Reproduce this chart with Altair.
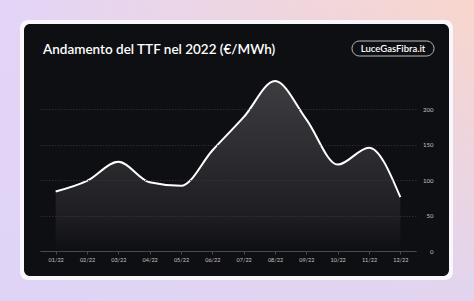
import altair as alt
import pandas as pd

months = ["01/22", "02/22", "03/22", "04/22", "05/22", "06/22",
          "07/22", "08/22", "09/22", "10/22", "11/22", "12/22"]
ttf = [84, 99, 126, 97, 92, 142, 189, 240, 186, 122, 146, 76]
y_ticks = [0, 50, 100, 150, 200]
title_text = "Andamento del TTF nel 2022 (€/MWh)"
badge_text = "LuceGasFibra.it"

df = pd.DataFrame({"mese": months, "ttf": ttf})
one = pd.DataFrame({"k": [0]})

PAD_L, PAD_T, PAD_R, PAD_B = 40, 74, 58, 50
W, H = 376, 177

bg = alt.Chart(one).mark_rect(
    color=alt.Gradient(gradient="linear", x1=0, x2=1, y1=0, y2=0,
                       stops=[alt.GradientStop(offset=0, color="#e3d5f8"),
                              alt.GradientStop(offset=1, color="#f8d6cc")])
).encode(x=alt.value(-PAD_L), x2=alt.value(W + PAD_R),
         y=alt.value(-PAD_T), y2=alt.value(H + PAD_B))

bg2 = alt.Chart(one).mark_rect(
    color=alt.Gradient(gradient="linear", x1=0, x2=0, y1=0, y2=1,
                       stops=[alt.GradientStop(offset=0, color="rgba(225,210,245,0)"),
                              alt.GradientStop(offset=1, color="rgba(222,212,246,0.85)")])
).encode(x=alt.value(-PAD_L), x2=alt.value(W + PAD_R),
         y=alt.value(-PAD_T), y2=alt.value(H + PAD_B))

card_border = alt.Chart(one).mark_rect(color="#f9f6fc", cornerRadius=8).encode(
    x=alt.value(20 - PAD_L), x2=alt.value(453 - PAD_L),
    y=alt.value(20 - PAD_T), y2=alt.value(280 - PAD_T))

card = alt.Chart(one).mark_rect(color="#0e0f13", cornerRadius=6).encode(
    x=alt.value(24 - PAD_L), x2=alt.value(449 - PAD_L),
    y=alt.value(24 - PAD_T), y2=alt.value(276 - PAD_T))

title = alt.Chart(one).mark_text(
    text=title_text, font="Lato", fontSize=13.5, fontWeight=600,
    color="#ffffff", align="left", baseline="alphabetic"
).encode(x=alt.value(43 - PAD_L), y=alt.value(54 - PAD_T))

badge = alt.Chart(one).mark_rect(
    fill="#0e0f13", stroke="#bdbdbd", strokeWidth=1, cornerRadius=7.5
).encode(x=alt.value(352 - PAD_L), x2=alt.value(434 - PAD_L),
         y=alt.value(41 - PAD_T), y2=alt.value(56 - PAD_T))

badge_t = alt.Chart(one).mark_text(
    text=badge_text, font="Lato", fontSize=9.5, fontWeight=600,
    color="#ffffff", align="center", baseline="middle"
).encode(x=alt.value(393 - PAD_L), y=alt.value(48.8 - PAD_T))

x_enc = alt.X("mese:O", sort=months, scale=alt.Scale(type="point", padding=0.5),
              axis=alt.Axis(title=None, labelAngle=0, labelFontSize=5.5,
                            labelColor="#c4c4c4", labelFont="Lato",
                            domainColor="#4a4a4e", tickColor="#4a4a4e",
                            tickSize=3, labelPadding=3, grid=False, zindex=1))
y_enc = alt.Y("ttf:Q", scale=alt.Scale(domain=[0, 250], nice=False, zero=True),
              axis=alt.Axis(title=None, orient="right", values=y_ticks,
                            labelFontSize=6, labelColor="#c4c4c4", labelFont="Lato",
                            labelAlign="right", labelPadding=17,
                            domain=False, ticks=False, grid=True,
                            gridColor="#34343a", gridDash=[1.5, 1.5], gridWidth=0.8,
                            zindex=1))

area = alt.Chart(df).mark_area(
    interpolate="monotone",
    color=alt.Gradient(gradient="linear", x1=0, x2=0, y1=0, y2=1,
                       stops=[alt.GradientStop(offset=0, color="#3d3d41"),
                              alt.GradientStop(offset=0.8, color="#1e1e22"),
                              alt.GradientStop(offset=1, color="#0e0f13")])
).encode(x=x_enc, y=y_enc)

line = alt.Chart(df).mark_line(
    interpolate="monotone", color="#ffffff", strokeWidth=2
).encode(x=x_enc, y=y_enc)

chart = alt.layer(bg, bg2, card_border, card, title, badge, badge_t, area, line).properties(
    width=W, height=H,
    padding={"left": PAD_L, "top": PAD_T, "right": PAD_R, "bottom": PAD_B},
    autosize=alt.AutoSizeParams(type="none"),
    background="#e8d6f4",
).configure_view(stroke=None)

chart.save("out.html", embed_options={"renderer": "svg", "actions": False})
